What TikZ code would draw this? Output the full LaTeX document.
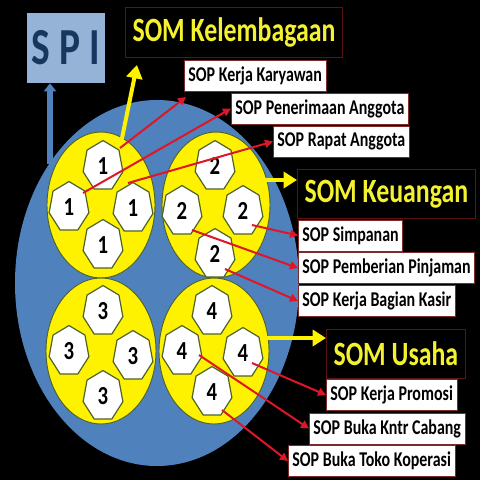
\documentclass[tikz,border=0pt]{standalone}
\usepackage{fontspec}
\usetikzlibrary{arrows.meta,shapes.geometric}
\newfontfamily\slidefont{Carlito}[FakeStretch=0.76]
\newfontfamily\digitfont{Carlito}
\definecolor{ovalblue}{HTML}{4F81BD}
\definecolor{spifill}{HTML}{95B3D7}
\definecolor{spitext}{HTML}{17375E}
\definecolor{heptline}{HTML}{4F6228}
\definecolor{boxline}{HTML}{7F2A2A}
\definecolor{somline}{HTML}{5A1414}
\definecolor{arrowred}{RGB}{222,22,38}
\definecolor{somyellow}{HTML}{F4F22E}

\tikzstyle{slide}=[x=0.75pt,y=-0.75pt]
\tikzstyle{hept}=[regular polygon,regular polygon sides=7,minimum size=38.25pt,inner sep=0pt,draw=heptline,line width=0.9pt,fill=white,xscale=0.8,font=\digitfont\bfseries\fontsize{19.5}{20}\selectfont]
\tikzstyle{sopbox}=[anchor=west,draw=boxline,line width=0.6pt,fill=white,minimum height=23.25pt,inner xsep=3pt,inner ysep=0pt,font=\slidefont\bfseries\fontsize{15.75}{18}\selectfont]
\tikzstyle{sombox}=[anchor=west,draw=somline,line width=0.8pt,fill=black,text=somyellow,minimum height=37pt,inner xsep=5.25pt,inner ysep=0pt,font=\slidefont\bfseries\fontsize{25.5}{28}\selectfont]
\tikzstyle{redarrow}=[draw=arrowred,line width=1.5pt,-{Triangle[length=6pt,width=6pt]}]
\tikzstyle{yellowarrow}=[draw=yellow,line width=3pt,-{Triangle[length=10pt,width=12pt]}]
\tikzstyle{bluearrow}=[draw=ovalblue,line width=4.5pt,-{Triangle[length=6pt,width=9pt]}]

\begin{document}
\begin{tikzpicture}[style=slide]
\useasboundingbox (0,0) rectangle (480,480);
\fill [black] (0,0) rectangle (480,480);

\fill [ovalblue] (157,283) ellipse [x radius=142, y radius=183];

\node[fill=spifill,minimum width=58.5pt,minimum height=52.5pt,inner sep=0pt,text=spitext,font=\slidefont\bfseries\fontsize{39}{40}\selectfont] (spi) at (66,48) {S P I};
\coordinate (spibase) at (50,164);
\draw[bluearrow] (spibase) -- (spibase |- spi.south);

\filldraw [fill=yellow,draw=heptline,line width=0.7pt] (101,205) ellipse [x radius=54, y radius=73];
\filldraw [fill=yellow,draw=heptline,line width=0.7pt] (216,205) ellipse [x radius=54, y radius=73];
\filldraw [fill=yellow,draw=heptline,line width=0.7pt] (101,351) ellipse [x radius=55, y radius=73];
\filldraw [fill=yellow,draw=heptline,line width=0.7pt] (214,351) ellipse [x radius=55, y radius=73];

\node[hept] (h1t) at (103,166) {1};
\node[hept] (h1l) at (69,207) {1};
\node[hept] (h1r) at (133,208) {1};
\node[hept] (h1b) at (103,245) {1};

\node[hept] (h2t) at (215,166) {2};
\node[hept] (h2l) at (182,211) {2};
\node[hept] (h2r) at (243,211) {2};
\node[hept] (h2b) at (215,254) {2};

\node[hept] (h3t) at (103,311) {3};
\node[hept] (h3l) at (69,351) {3};
\node[hept] (h3r) at (133,356) {3};
\node[hept] (h3b) at (103,396) {3};

\node[hept] (h4t) at (212,311) {4};
\node[hept] (h4l) at (182,351) {4};
\node[hept] (h4r) at (243,353) {4};
\node[hept] (h4b) at (212,392) {4};

\node[sombox] (lembaga) at (125,32.5) {SOM Kelembagaan};
\node[sombox] (uang) at (297,194) {SOM Keuangan};
\node[sombox] (usaha) at (326,354) {SOM Usaha};

\node[sopbox] (karyawan) at (184,76) {SOP Kerja Karyawan};
\node[sopbox] (penerimaan) at (231,108.5) {SOP Penerimaan Anggota};
\node[sopbox] (rapat) at (273,141.5) {SOP Rapat Anggota};
\node[sopbox] (simpanan) at (298,235.5) {SOP Simpanan};
\node[sopbox] (pinjaman) at (298,268) {SOP Pemberian Pinjaman};
\node[sopbox] (kasir) at (298,301) {SOP Kerja Bagian Kasir};
\node[sopbox] (promosi) at (326,395) {SOP Kerja Promosi};
\node[sopbox] (cabang) at (309,428.5) {SOP Buka Kntr Cabang};
\node[sopbox] (toko) at (288,461) {SOP Buka Toko Koperasi};

\coordinate (y1) at (120,148);
\coordinate (y1tip) at (137,65);
\coordinate (y2) at (252,180);
\coordinate (y2tip) at (297,180);
\coordinate (y3) at (266,338);
\coordinate (y3tip) at (326,338);
\draw[yellowarrow] (y1) -- (y1tip);
\draw[yellowarrow] (y2) -- (y2tip);
\draw[yellowarrow] (y3) -- (y3tip);

\coordinate (k1) at (120,148);
\coordinate (k1tip) at (186,97);
\coordinate (k2) at (83,193);
\coordinate (k3) at (128,183);
\coordinate (u1) at (252,225);
\coordinate (u2) at (192,230);
\coordinate (u3) at (225,269);
\coordinate (s1) at (252,363);
\coordinate (s2) at (199,355);
\coordinate (s3) at (222,410);
\draw[redarrow] (k1) -- (k1tip);
\draw[redarrow] (k2) -- (penerimaan.west);
\draw[redarrow] (k3) -- (rapat.west);
\draw[redarrow] (u1) -- (simpanan.west);
\draw[redarrow] (u2) -- (pinjaman.west);
\draw[redarrow] (u3) -- (kasir.west);
\draw[redarrow] (s1) -- (promosi.west);
\draw[redarrow] (s2) -- (cabang.west);
\draw[redarrow] (s3) -- (toko.west);
\end{tikzpicture}
\end{document}
